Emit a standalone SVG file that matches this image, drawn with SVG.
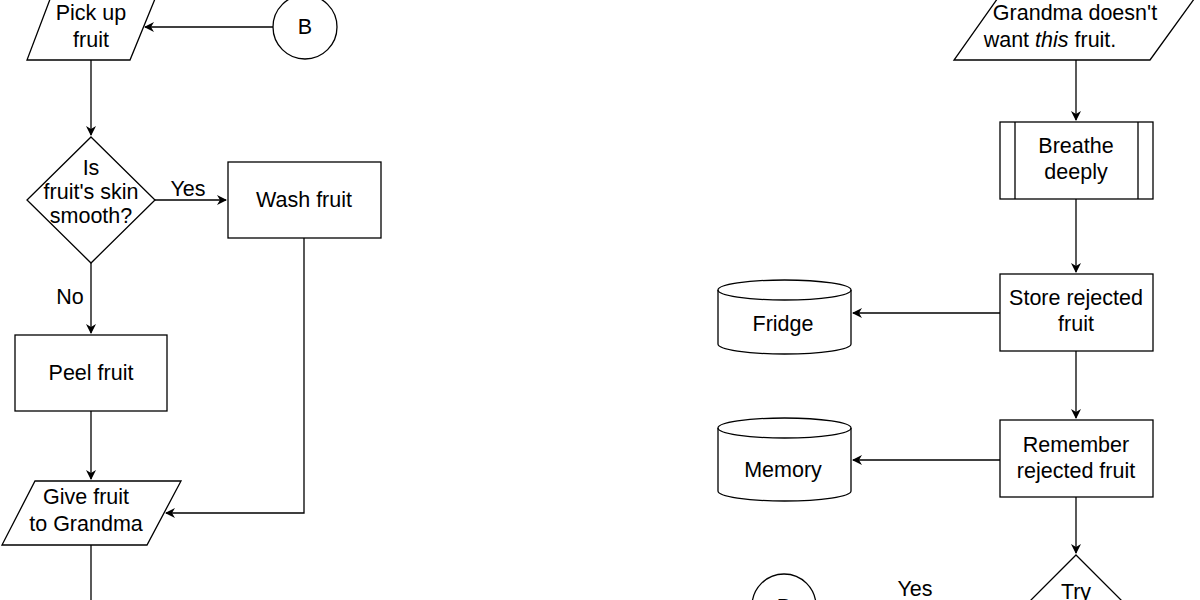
<svg xmlns="http://www.w3.org/2000/svg" width="1200" height="600" viewBox="0 0 1200 600">
<defs>
<marker id="ah" markerWidth="10" markerHeight="10" refX="9" refY="5" orient="auto" markerUnits="userSpaceOnUse"><path d="M0,0 L10,5 L0,10 L3,5 Z" fill="#000"/></marker>
<style>
.s{fill:#fff;stroke:#000;stroke-width:1.3}
.c{fill:none;stroke:#000;stroke-width:1.3}
text{font-family:"Liberation Sans",Arial,sans-serif;font-size:21.5px;fill:#000;text-anchor:middle}
</style>
</defs>
<rect width="1200" height="600" fill="#fff"/>
<g id="connectors">
<path class="c" d="M273,27 H145" marker-end="url(#ah)"/>
<path class="c" d="M91,60 V135" marker-end="url(#ah)"/>
<path class="c" d="M155,200 H226" marker-end="url(#ah)"/>
<text x="188" y="196">Yes</text>
<path class="c" d="M91,263 V333" marker-end="url(#ah)"/>
<text x="70" y="304">No</text>
<path class="c" d="M91,411 V479" marker-end="url(#ah)"/>
<path class="c" d="M304,238 V513 H166" marker-end="url(#ah)"/>
<path class="c" d="M91,545 V600"/>
<path class="c" d="M1076,60 V120" marker-end="url(#ah)"/>
<path class="c" d="M1076,199 V272" marker-end="url(#ah)"/>
<path class="c" d="M1000,313 H853" marker-end="url(#ah)"/>
<path class="c" d="M1076,351 V418" marker-end="url(#ah)"/>
<path class="c" d="M1000,460 H853" marker-end="url(#ah)"/>
<path class="c" d="M1076,497 V553" marker-end="url(#ah)"/>
<text x="915" y="596">Yes</text>
</g>
<g id="pick"><polygon class="s" points="52,-6 157,-6 130,60 27,60"/><text x="91" y="20">Pick up</text><text x="91" y="47">fruit</text></g>
<g id="b1"><circle class="s" cx="305" cy="27" r="32"/><text x="305" y="34">B</text></g>
<g id="dec1"><polygon class="s" points="91,137 155,200 91,263 27,200"/><text x="91" y="175">Is</text><text x="91" y="199">fruit's skin</text><text x="91" y="223">smooth?</text></g>
<g id="wash"><rect class="s" x="228" y="162" width="153" height="76"/><text x="304" y="207">Wash fruit</text></g>
<g id="peel"><rect class="s" x="15" y="335" width="152" height="76"/><text x="91" y="380">Peel fruit</text></g>
<g id="give"><polygon class="s" points="35,481 181,481 147,545 2,545"/><text x="86" y="504">Give fruit</text><text x="86" y="531">to Grandma</text></g>
<g id="grandma"><polygon class="s" points="1000,-5 1197,-5 1150,60 954,60"/><text x="1075" y="20">Grandma doesn't</text><text x="1050" y="47">want <tspan font-style="italic">this</tspan> fruit.</text></g>
<g id="breathe"><rect class="s" x="1000" y="122" width="153" height="77"/><path class="c" d="M1015,122 V199 M1138,122 V199"/><text x="1076" y="153">Breathe</text><text x="1076" y="179">deeply</text></g>
<g id="store"><rect class="s" x="1000" y="274" width="153" height="77"/><text x="1076" y="305">Store rejected</text><text x="1076" y="331">fruit</text></g>
<g id="fridge"><path class="s" d="M718,290 A66.5,10 0 0 1 851,290 V344 A66.5,10 0 0 1 718,344 Z"/><path class="c" d="M718,290 A66.5,10 0 0 0 851,290"/><text x="783" y="331">Fridge</text></g>
<g id="remember"><rect class="s" x="1000" y="420" width="153" height="77"/><text x="1076" y="452">Remember</text><text x="1076" y="478">rejected fruit</text></g>
<g id="memory"><path class="s" d="M718,428 A66.5,10 0 0 1 851,428 V491 A66.5,10 0 0 1 718,491 Z"/><path class="c" d="M718,428 A66.5,10 0 0 0 851,428"/><text x="783" y="477">Memory</text></g>
<g id="dec2"><polygon class="s" points="1076,555 1153,632 1076,709 999,632"/><text x="1076" y="599">Try</text></g>
<g id="b2"><circle class="s" cx="784" cy="606" r="32"/><text x="784" y="614">B</text></g>
</svg>
